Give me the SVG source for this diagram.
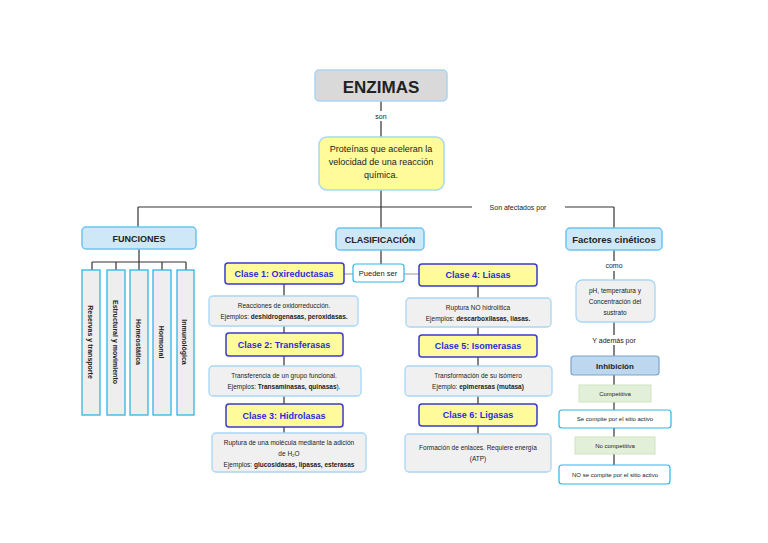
<svg xmlns="http://www.w3.org/2000/svg" width="768" height="543" viewBox="0 0 768 543">
<style>
text{font-family:"Liberation Sans",Arial,sans-serif;text-anchor:middle;fill:#222}
.ln{stroke:#333;stroke-width:1.2;fill:none}
.gl{stroke:#bbb;stroke-width:1.5;fill:none}
.hd{fill:#cfe8f8;stroke:#6cc4ee;stroke-width:1.5}
.cl{fill:#fffb9a;stroke:#3a3ad0;stroke-width:1.5}
.ct{font-size:9px;font-weight:bold;fill:#2a2ae0}
.ds{fill:#f0f0f0;stroke:#a8d6f5;stroke-width:1.3}
.dt{font-size:6.5px}
.fb{fill:#eeeeee;stroke:#2fb5e8;stroke-width:1.3}
.ft{font-size:7px;font-weight:bold}
.wb{fill:#fff;stroke:#2fb5e8;stroke-width:1.2}
.gb{fill:#e2efd9;stroke:#cfe3c3;stroke-width:1}
.sm{font-size:6px}
</style>
<rect width="768" height="543" fill="#fff"/>
<g id="connectors">
<path class="ln" d="M381 101V137M381 190V228M138 207H472M565 207H614M138 207V227M614 207V228M139 249V262M92 262H186M92 262V270M116 262V270M139 262V270M162 262V270M186 262V270"/>
<path class="ln" d="M381 250V264M284 284V296M284 326V333M284 356V366M284 396V404M284 427V433M478 286V298M478 327V335M478 357V366M478 396V404M478 426V434M614 250V280M614 322V356M614 375V465"/>
<path class="gl" d="M344 274H353M404 274H419"/>
</g>
<g id="enzimas"><rect x="315" y="70" width="132" height="31" rx="4" fill="#d9d9d9" stroke="#a8d6f5" stroke-width="1.5"/><text x="381" y="93" font-size="17" font-weight="bold" fill="#111">ENZIMAS</text></g>
<g id="son"><rect x="370" y="111" width="22" height="10" fill="#fff"/><text x="381" y="119" font-size="7">son</text></g>
<g id="proteinas"><rect x="319" y="137" width="125" height="53" rx="8" fill="#fffb9a" stroke="#a8d6f5" stroke-width="1.5"/><text x="381" y="152" font-size="9">Proteínas que aceleran la</text><text x="381" y="165" font-size="9">velocidad de una reacción</text><text x="381" y="178" font-size="9">química.</text></g>
<g id="afectados"><text x="518" y="210" font-size="7">Son afectados por</text></g>
<g id="funciones"><rect class="hd" x="82" y="227" width="114" height="22" rx="4"/><text x="139" y="242" font-size="9" font-weight="bold">FUNCIONES</text></g>
<g id="clasificacion"><rect class="hd" x="336" y="228" width="88" height="22" rx="4"/><text x="380" y="243" font-size="9" font-weight="bold">CLASIFICACIÓN</text></g>
<g id="factores"><rect class="hd" x="566" y="228" width="96" height="22" rx="4"/><text x="614" y="243" font-size="9.5" font-weight="bold">Factores cinéticos</text></g>
<g id="f1"><rect class="fb" x="82" y="270" width="18" height="145"/><text class="ft" transform="translate(88,342) rotate(90)">Reservas y transporte</text></g>
<g id="f2"><rect class="fb" x="107" y="270" width="18" height="145"/><text class="ft" transform="translate(113,342) rotate(90)">Estructural y movimiento</text></g>
<g id="f3"><rect class="fb" x="130" y="270" width="18" height="145"/><text class="ft" transform="translate(136,342) rotate(90)">Homeostática</text></g>
<g id="f4"><rect class="fb" x="153" y="270" width="18" height="145"/><text class="ft" transform="translate(159,342) rotate(90)">Hormonal</text></g>
<g id="f5"><rect class="fb" x="177" y="270" width="17" height="145"/><text class="ft" transform="translate(182,342) rotate(90)">Inmunológica</text></g>
<g id="pueden"><rect class="wb" x="353" y="264" width="51" height="18" rx="3"/><text x="378" y="276" font-size="7.5">Pueden ser</text></g>
<g id="c1"><rect class="cl" x="225" y="263" width="119" height="21" rx="3"/><text class="ct" x="284" y="277">Clase 1: Oxireductasas</text></g>
<g id="d1"><rect class="ds" x="209" y="296" width="149" height="30" rx="4"/><text class="dt" x="284" y="308">Reacciones de oxidorreducción.</text><text class="dt" x="284" y="319">Ejemplos: <tspan font-weight="bold">deshidrogenasas, peroxidasas.</tspan></text></g>
<g id="c2"><rect class="cl" x="226" y="333" width="117" height="23" rx="3"/><text class="ct" x="284" y="348">Clase 2: Transferasas</text></g>
<g id="d2"><rect class="ds" x="209" y="366" width="152" height="30" rx="4"/><text class="dt" x="284" y="378">Transferencia de un grupo funcional.</text><text class="dt" x="284" y="389">Ejemplos: <tspan font-weight="bold">Transaminasas, quinasas</tspan>).</text></g>
<g id="c3"><rect class="cl" x="226" y="404" width="117" height="23" rx="3"/><text class="ct" x="284" y="419">Clase 3: Hidrolasas</text></g>
<g id="d3"><rect class="ds" x="212" y="433" width="154" height="39" rx="4"/><text class="dt" x="289" y="445">Ruptura de una molécula mediante la adición</text><text class="dt" x="289" y="456">de H₂O</text><text class="dt" x="289" y="467">Ejemplos: <tspan font-weight="bold">glucosidasas, lipasas, esterasas</tspan></text></g>
<g id="c4"><rect class="cl" x="419" y="264" width="118" height="22" rx="3"/><text class="ct" x="478" y="278">Clase 4: Liasas</text></g>
<g id="d4"><rect class="ds" x="406" y="298" width="145" height="29" rx="4"/><text class="dt" x="478" y="310">Ruptura NO hidrolítica</text><text class="dt" x="478" y="321">Ejemplos: <tspan font-weight="bold">descarboxilasas, liasas.</tspan></text></g>
<g id="c5"><rect class="cl" x="419" y="335" width="118" height="22" rx="3"/><text class="ct" x="478" y="349">Clase 5: Isomerasas</text></g>
<g id="d5"><rect class="ds" x="405" y="366" width="147" height="30" rx="4"/><text class="dt" x="478" y="378">Transformación de su isómero</text><text class="dt" x="478" y="389">Ejemplo: <tspan font-weight="bold">epimerasas (mutasa)</tspan></text></g>
<g id="c6"><rect class="cl" x="419" y="404" width="118" height="22" rx="3"/><text class="ct" x="478" y="418">Clase 6: Ligasas</text></g>
<g id="d6"><rect class="ds" x="405" y="434" width="146" height="38" rx="4"/><text class="dt" x="478" y="450">Formación de enlaces. Requiere energía</text><text class="dt" x="478" y="461">(ATP)</text></g>
<g id="como"><rect x="600" y="261" width="28" height="10" fill="#fff"/><text x="614" y="268" font-size="7">como</text></g>
<g id="ph"><rect class="ds" x="576" y="280" width="79" height="42" rx="6"/><text class="dt" x="615" y="293">pH, temperatura y</text><text class="dt" x="615" y="304">Concentración del</text><text class="dt" x="615" y="315">sustrato</text></g>
<g id="ademas"><rect x="590" y="335" width="50" height="10" fill="#fff"/><text x="614" y="343" font-size="7">Y además por</text></g>
<g id="inhibicion"><rect x="571" y="356" width="88" height="19" rx="3" fill="#bdd7ee" stroke="#7aa6cc" stroke-width="1.2"/><text x="615" y="369" font-size="8" font-weight="bold" fill="#333">Inhibición</text></g>
<g id="competitiva"><rect class="gb" x="579" y="385" width="72" height="17"/><text class="sm" x="615" y="396">Competitiva</text></g>
<g id="secompite"><rect class="wb" x="559" y="410" width="112" height="18" rx="3"/><text class="sm" x="615" y="421" font-size="5.5">Se compite por el sitio activo</text></g>
<g id="nocompetitiva"><rect class="gb" x="575" y="437" width="80" height="17"/><text class="sm" x="615" y="448">No competitiva</text></g>
<g id="nosecompite"><rect class="wb" x="559" y="465" width="111" height="19" rx="3"/><text class="sm" x="615" y="477" font-size="5.5">NO se compite por el sitio activo</text></g>
</svg>
